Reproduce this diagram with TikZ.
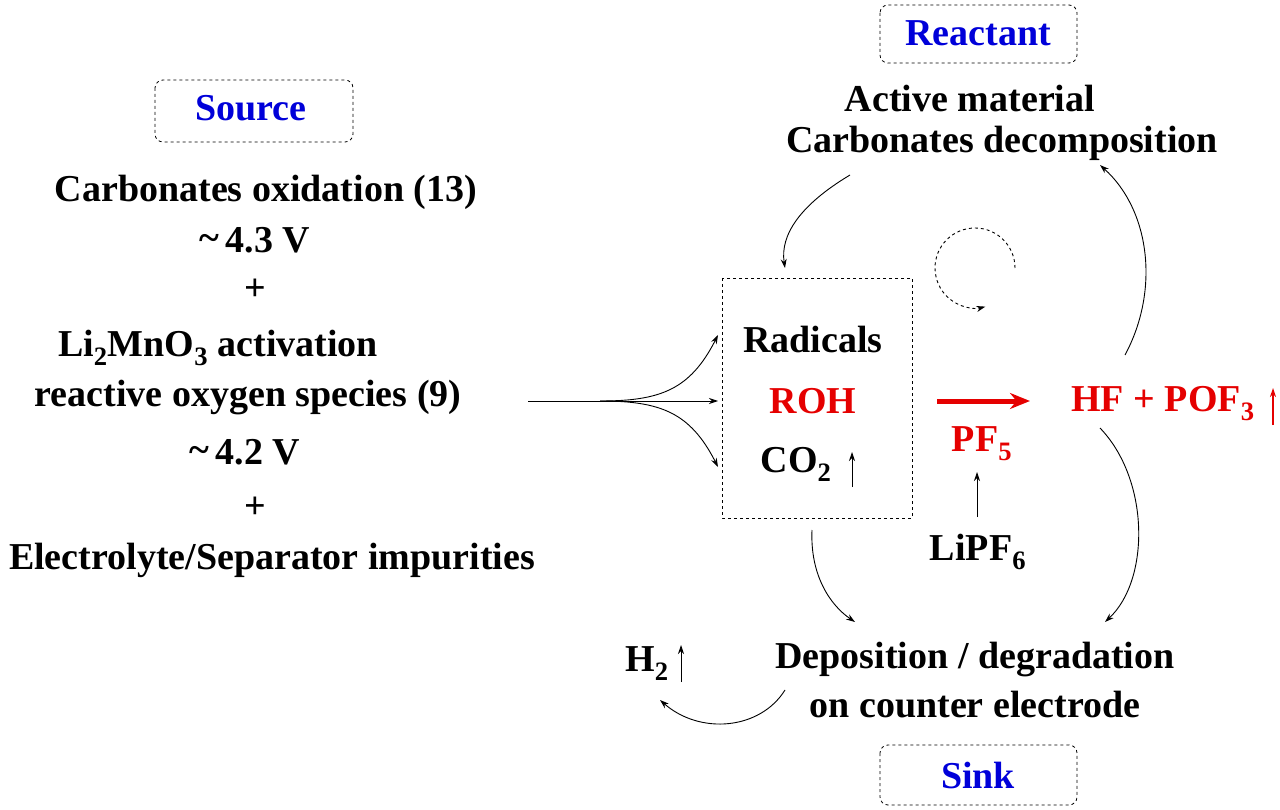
\documentclass[tikz,border=0pt]{standalone}
\usepackage{fontspec}
\setmainfont{Liberation Serif}
\usetikzlibrary{arrows.meta}
\begin{document}
\begin{tikzpicture}[x=1pt,y=-1pt,
  txt/.style={font=\fontsize{38}{42}\selectfont\bfseries, inner sep=0pt},
  lbl/.style={txt, text=blue!85!black},
  red/.style={txt, text=red!90!black},
  tagbox/.style={draw, dashed, rounded corners=8pt, line width=0.8pt},
  arr/.style={-{Stealth[length=9pt,width=6pt]}, line width=0.9pt}]
\useasboundingbox (0,0) rectangle (1280,810);
% boxes
\draw[tagbox] (155,80) rectangle (353,142);
\node[lbl] (src) at (251,108) {Source};
\draw[tagbox] (880,5) rectangle (1077,63);
\node[lbl] (rea) at (978,33) {Reactant};
\draw[tagbox] (880,745) rectangle (1077,805);
\node[lbl] (sink) at (978,775) {Sink};
% left text
\node[txt] (l1) at (266,192) {Carbonates oxidation (13)};
\node[txt] (l2) at (255,240) {\raisebox{0.1ex}{\char`\~}\,4.3 V};
\node[txt] (l3) at (255,290) {+};
\node[txt] (l4) at (218,348) {Li\textsubscript{2}MnO\textsubscript{3} activation};
\node[txt] (l5) at (248,398) {reactive oxygen species (9)};
\node[txt] (l6) at (245,452) {\raisebox{0.1ex}{\char`\~}\,4.2 V};
\node[txt] (l7) at (255,508) {+};
\node[txt] (l8) at (272,560) {Electrolyte/Separator impurities};
% radicals box
\draw[dashed, line width=0.8pt] (722,278) rectangle (912,518);
\node[txt] (rad) at (813,340) {Radicals};
\node[red] (roh) at (813,401) {ROH};
\node[txt] (co2) at (796,464) {CO\textsubscript{2}};
\coordinate (c2a) at (852,487); \coordinate (c2b) at (852,452);
\draw[arr] (c2a) -- (c2b);
% branching arrows
\coordinate (s0) at (528,401); \coordinate (s1) at (600,401);
\coordinate (t1) at (718,335); \coordinate (t2) at (718,401); \coordinate (t3) at (718,467);
\draw[line width=0.9pt] (s0) -- (s1);
\draw[arr] (s1) .. controls (660,401) and (690,390) .. (t1);
\draw[arr] (s1) -- (t2);
\draw[arr] (s1) .. controls (660,401) and (690,412) .. (t3);
% red arrow & HF
\coordinate (ra) at (937,401); \coordinate (rb) at (1030,401);
\draw[-{Stealth[length=20pt,width=16pt]}, line width=5pt, red!90!black] (ra) -- (rb);
\node[red] (hf) at (1163,404) {HF + POF\textsubscript{3}};
\coordinate (ha) at (1273,425); \coordinate (hb) at (1273,388);
\draw[arr, red!90!black, line width=1.5pt] (ha) -- (hb);
\node[red] (pf5) at (982,444) {PF\textsubscript{5}};
\node[txt] (lipf) at (978,552) {LiPF\textsubscript{6}};
\coordinate (la) at (977,517); \coordinate (lb) at (977,472);
\draw[arr] (la) -- (lb);
% top
\node[txt] (am) at (970,99) {Active material};
\node[txt] (cd) at (1002,143) {Carbonates decomposition};
\coordinate (a1) at (850,175); \coordinate (a2) at (785,268);
\draw[arr] (a1) .. controls (800,205) and (780,235) .. (a2);
\coordinate (b1) at (1125,355); \coordinate (b2) at (1100,165);
\draw[arr] (b1) .. controls (1160,290) and (1150,210) .. (b2);
% circular dashed
\draw[arr, dashed] (1015,268) arc[start angle=0, end angle=-285, radius=40];
% bottom
\node[txt] (dep1) at (975,660) {Deposition / degradation};
\node[txt] (dep2) at (975,705) {on counter electrode};
\coordinate (d1) at (812,530); \coordinate (d2) at (855,622);
\draw[arr] (d1) .. controls (810,575) and (830,605) .. (d2);
\coordinate (e1) at (1100,428); \coordinate (e2) at (1105,622);
\draw[arr] (e1) .. controls (1150,480) and (1150,580) .. (e2);
\node[txt] (h2) at (647,664) {H\textsubscript{2}};
\draw[arr] (681,682) -- (681,645);
\coordinate (f1) at (785,690); \coordinate (f2) at (660,700);
\draw[arr] (f1) .. controls (760,730) and (700,735) .. (f2);
\end{tikzpicture}
\end{document}
